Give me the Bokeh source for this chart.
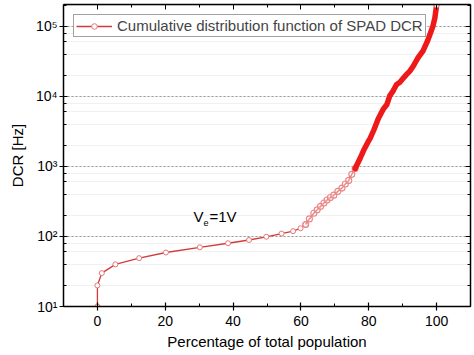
from bokeh.plotting import figure
from bokeh.models import (LinearAxis, LogAxis, Legend, LegendItem, Label,
                          SingleIntervalTicker, LogTicker, CustomJSTickFormatter,
                          CustomLabelingPolicy)
from bokeh.embed import file_html
from bokeh.resources import INLINE

# ---- data ----
pct_low = [0, 0, 1.3, 5.3, 12.3, 20.2, 30.2, 38.5, 44.7, 49.8, 54.3, 57.7, 59.9, 61.4]
dcr_low = [10, 20, 30, 40, 49, 59, 70, 80, 89, 99, 110, 119, 131, 148]

pct_mid = [61.4, 62.5, 63.8, 64.8, 65.8, 66.8, 67.7, 68.7, 69.7, 70.9, 72.1, 73.1, 74.1, 75.0, 76.0]
dcr_mid = [148, 178, 214, 240, 269, 300, 331, 360, 389, 440, 490, 560, 631, 770, 933]

pct_tail = [76.0, 77.5, 78.5, 79.9, 80.4, 81.5, 82.8, 84.3, 85.3, 86.2, 87.2, 88.2, 89.1,
            90.1, 91.1, 92.1, 93.1, 94.5, 96.0, 97.4, 98.3, 98.9, 99.5, 100]
dcr_tail = [933, 1318, 1700, 2290, 2510, 3310, 4790, 6600, 7590, 10200, 12000, 14800, 15800,
            18000, 20400, 22900, 26900, 35500, 44700, 63100, 83000, 100000, 132000, 200000]

x_ticks_interval = 20
series_label = "Cumulative distribution function of SPAD DCR"
annot_x, annot_y = 28.3, 193

FONT = "Liberation Sans"

p = figure(width=474, height=355, x_range=(-10, 110), y_range=(10, 2.05e5),
           y_axis_type="log", output_backend="svg", toolbar_location=None,
           min_border_left=63, min_border_right=2, min_border_top=1, min_border_bottom=49,
           background_fill_color="white", border_fill_color="white")
p.outline_line_color = None

# grids
p.xgrid.visible = False
p.ygrid.grid_line_color = "#999999"
p.ygrid.grid_line_dash = "2 2"
p.ygrid.minor_grid_line_color = "#f0f0f0"

sup_code = """
const sup = {'0':'\u2070','1':'\u00b9','2':'\u00b2','3':'\u00b3','4':'\u2074','5':'\u2075','6':'\u2076','-':'\u207b'};
const e = Math.round(Math.log10(tick));
return '10' + String(e).split('').map(c => sup[c]).join('');
"""

# bottom axis
xa = p.xaxis[0]
xa.ticker = SingleIntervalTicker(interval=x_ticks_interval, num_minor_ticks=2)
xa.axis_label = "Percentage of total population"
# left axis
ya = p.yaxis[0]
ya.ticker = LogTicker()
ya.formatter = CustomJSTickFormatter(code=sup_code)
ya.axis_label = "DCR [Hz]"

for ax in (xa, ya):
    ax.axis_line_width = 1.5
    ax.axis_line_color = "black"
    ax.major_tick_in = 4
    ax.major_tick_out = 4
    ax.minor_tick_in = 3
    ax.minor_tick_out = 0
    ax.major_tick_line_width = 1.2
    ax.major_label_text_font = FONT
    ax.major_label_text_font_size = "14px"
    ax.major_label_text_color = "black"
    ax.axis_label_text_font = FONT
    ax.axis_label_text_font_size = "15px"
    ax.axis_label_text_font_style = "normal"
    ax.axis_label_text_color = "black"
xa.major_label_standoff = 5
xa.axis_label_standoff = 4
ya.major_label_standoff = 2
ya.axis_label_standoff = 7

# top and right axes (ticks only, no labels)
no_labels = CustomLabelingPolicy(code="return new Set()")
top = LinearAxis(ticker=SingleIntervalTicker(interval=x_ticks_interval, num_minor_ticks=2),
                 major_label_policy=no_labels)
right = LogAxis(ticker=LogTicker(), major_label_policy=no_labels)
for ax in (top, right):
    ax.axis_line_width = 1.5
    ax.major_tick_in = 5
    ax.major_tick_out = 0
    ax.minor_tick_in = 3
    ax.minor_tick_out = 0
    ax.major_label_standoff = 0
    ax.axis_label_standoff = 0
    ax.major_label_text_font_size = "1px"
p.add_layout(top, "above")
p.add_layout(right, "right")

# series
line_col = "#d23a3a"
mark_col = "#e87676"
l1 = p.line(pct_low, dcr_low, line_color=line_col, line_width=1.3)
s1 = p.scatter(pct_low, dcr_low, marker="circle", size=5, line_color=mark_col,
               fill_color="white", line_width=1)
p.line(pct_mid, dcr_mid, line_color="#e45a5a", line_width=1.5)
p.scatter(pct_mid, dcr_mid, marker="circle", size=6, line_color="#eb8484",
          fill_color="white", fill_alpha=0.3, line_width=1.1)
p.line(pct_tail, dcr_tail, line_color="#ee1a1a", line_width=5.5,
       line_join="round", line_cap="round")
p.scatter(pct_tail[-1:], dcr_tail[-1:], marker="circle", size=5, line_color=mark_col,
          fill_color="white")

# annotation V_e = 1V
lab_kw = dict(text_font=FONT, text_color="black", text_baseline="middle", text_align="left")
p.add_layout(Label(x=annot_x, y=annot_y, text="V", text_font_size="15px", **lab_kw))
p.add_layout(Label(x=annot_x, y=annot_y, x_offset=10, y_offset=-7, text="e",
                   text_font_size="9px", **lab_kw))
p.add_layout(Label(x=annot_x, y=annot_y, x_offset=16, text="=1V", text_font_size="15px", **lab_kw))

legend = Legend(items=[LegendItem(label=series_label, renderers=[l1, s1])],
                location="top_left", margin=10, padding=2, spacing=0,
                glyph_width=36, glyph_height=14, label_height=14, label_standoff=5,
                label_text_font=FONT, label_text_font_size="15px",
                border_line_color="#444444", border_line_width=1,
                background_fill_color="white", background_fill_alpha=1)
p.add_layout(legend)

open("out.html", "w").write(file_html(p, INLINE))
